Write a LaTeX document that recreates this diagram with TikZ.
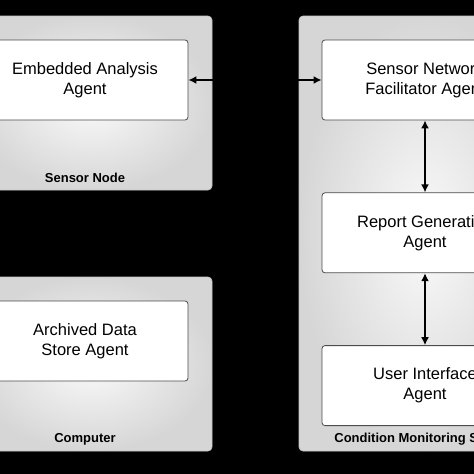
\documentclass[tikz,border=0pt]{standalone}
\usepackage{fontspec}
\setmainfont{Liberation Sans}
\usepackage{tikz}
\usetikzlibrary{positioning}
\usetikzlibrary{arrows.meta}

\begin{document}
\begin{tikzpicture}[x=1pt, y=-1pt, node distance=72pt,
  panel/.style = {shape=rectangle, rounded corners=4pt,
    draw=gray!45, line width=0.6pt,
    shading=radial, inner color=gray!4, outer color=gray!32},
  agent/.style = {shape=rectangle, rounded corners=3pt,
    draw=black!70, line width=0.8pt, fill=white, align=center,
    minimum width=206pt, minimum height=80pt,
    font=\fontsize{16.5}{20}\selectfont},
  panellabel/.style = {font=\bfseries\fontsize{13}{15}\selectfont},
  link/.style = {line width=1.8pt,
    {Latex[length=8pt,width=8pt]}-{Latex[length=8pt,width=8pt]}}
  ]
  \useasboundingbox (0,0) rectangle (474,474);
  \clip (0,0) rectangle (474,474);
  \fill[black] (0,0) rectangle (474,474);
  % hosts
  \node[panel, minimum width=242pt, minimum height=174pt] (sensornode) at (91,103) {};
  \node[panel, minimum width=242pt, minimum height=174pt] (computer) at (91,364) {};
  \node[panel, minimum width=252pt, minimum height=435pt] (monitoring) at (425,233.5) {};
  \node[panellabel] (sensornodelabel) at (85,178) {Sensor Node};
  \node[panellabel] (computerlabel) at (85,439) {Computer};
  \node[panellabel] (monitoringlabel) at (425,439) {Condition Monitoring System};
  % agents
  \node[agent] (analysis) at (85,80) {Embedded Analysis\\Agent};
  \node[agent] (archive) at (85,341) {Archived Data\\Store Agent};
  \node[agent] (facilitator) at (425,80) {Sensor Network\\Facilitator Agent};
  \node[agent] (report) [below=of facilitator] {Report Generation\\Agent};
  \node[agent] (interface) [below=of report] {User Interface\\Agent};
  % messages
  \draw[link] (analysis.east) -- (facilitator.west);
  \draw[link] (facilitator.south) -- (report.north);
  \draw[link] (report.south) -- (interface.north);
\end{tikzpicture}
\end{document}
